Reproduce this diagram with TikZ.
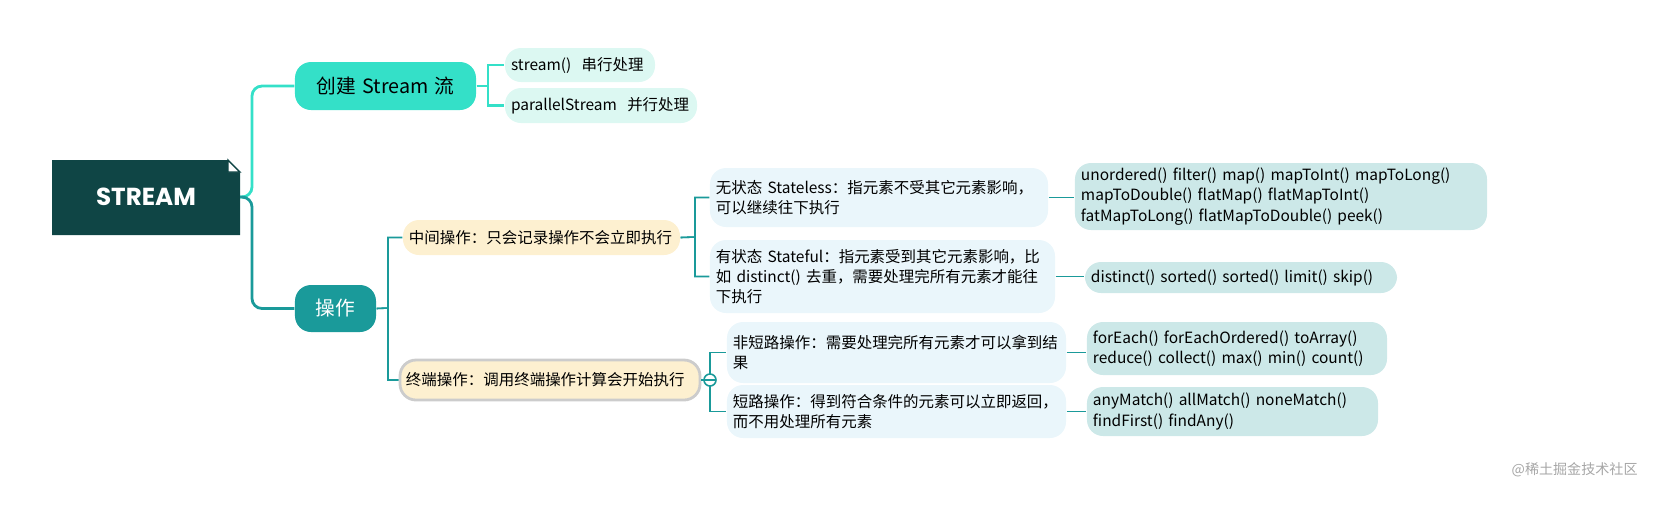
\documentclass[tikz,border=0pt]{standalone}
\usepackage{fontspec}
\setmainfont{Noto Sans CJK SC}
\newfontfamily\titlefont{Poppins}
\definecolor{rootc}{HTML}{0F4545}
\definecolor{cyanA}{HTML}{34E0C8}
\definecolor{tealB}{HTML}{1A9A9A}
\definecolor{lcyan}{HTML}{DCF8F2}
\definecolor{cream}{HTML}{FDF0D0}
\definecolor{lblue}{HTML}{EAF6FB}
\definecolor{lteal}{HTML}{CCE8E8}
\newcommand{\bx}[7]{%
  \pgfmathsetmacro\bw{(#4-#2)*0.01}\pgfmathsetmacro\bh{(#5-#3)*0.01}\pgfmathsetmacro\tw{(#4-#2-12)*0.01}%
  \node[#6,minimum width=\bw cm,minimum height=\bh cm,text width=\tw cm] (#1) at ({(#2+#4)/2},{(#3+#5)/2}) {#7};}
\begin{document}
\begin{tikzpicture}[x=0.01cm,y=-0.01cm,
  base/.style={inner sep=0pt,align=left,rounded corners=1.6mm},
  leaf/.style={base,font=\fontsize{4.4}{5.8}\selectfont},
  lnA/.style={cyanA,line width=0.8pt,rounded corners=1mm},
  lnB/.style={tealB,line width=0.8pt,rounded corners=1mm},
  thin/.style={tealB,line width=0.45pt}]
\useasboundingbox (0,0) rectangle (1662,523);
% root
\fill[rootc] (52,160) -- (228,160) -- (240,172) -- (240,235) -- (52,235) -- cycle;
\filldraw[fill=white,draw=rootc,line width=0.4pt] (228,160) -- (228,172) -- (240,172) -- cycle;
\node[text=white,font=\titlefont\bfseries\fontsize{7}{8}\selectfont] (root) at (146,197) {STREAM};
\coordinate (rootR) at (240,197);
\bx{create}{295}{62}{476}{110}{base,fill=cyanA,align=center,font=\fontsize{5.6}{7}\selectfont}{创建 Stream 流}
\bx{ops}{295}{285}{376}{332}{base,fill=tealB,text=white,align=center,font=\fontsize{5.6}{7}\selectfont}{操作}
\bx{s1}{505}{48}{655}{82}{leaf,fill=lcyan}{stream()\ \ 串行处理}
\bx{s2}{505}{88}{697}{123}{leaf,fill=lcyan}{parallelStream\ \ 并行处理}
\bx{mid}{403}{220}{680}{255}{leaf,fill=cream}{中间操作：只会记录操作不会立即执行}
\bx{term}{400}{360}{700}{400}{leaf,fill=cream,draw=gray!40,line width=0.8pt}{终端操作：调用终端操作计算会开始执行}
\bx{sl}{710}{168}{1048}{227}{leaf,fill=lblue}{无状态 Stateless：指元素不受其它元素影响，\\可以继续往下执行}
\bx{sf}{710}{240}{1055}{313}{leaf,fill=lblue}{有状态 Stateful：指元素受到其它元素影响，比\\如 distinct() 去重，需要处理完所有元素才能往\\下执行}
\bx{ns}{727}{322}{1066}{383}{leaf,fill=lblue}{非短路操作：需要处理完所有元素才可以拿到结\\果}
\bx{sc}{727}{385}{1066}{438}{leaf,fill=lblue}{短路操作：得到符合条件的元素可以立即返回，\\而不用处理所有元素}
\bx{r1}{1075}{163}{1487}{230}{leaf,fill=lteal}{unordered() filter() map() mapToInt() mapToLong()\\mapToDouble() flatMap() flatMapToInt()\\fatMapToLong() flatMapToDouble() peek()}
\bx{r2}{1085}{262}{1397}{293}{leaf,fill=lteal}{distinct() sorted() sorted() limit() skip()}
\bx{r3}{1087}{322}{1387}{375}{leaf,fill=lteal}{forEach() forEachOrdered() toArray()\\reduce() collect() max() min() count()}
\bx{r4}{1087}{387}{1378}{436}{leaf,fill=lteal}{anyMatch() allMatch() noneMatch()\\findFirst() findAny()}
% connectors
\draw[lnA] (rootR) -- (252,197) |- (create.west);
\draw[lnB] (rootR) -- (252,197) |- (ops.west);
\draw[cyanA,line width=0.6pt] (create.east) -- (488,86) |- (s1.west);
\draw[cyanA,line width=0.6pt] (create.east) -- (488,86) |- (s2.west);
\draw[thin] (ops.east) -- (388,308) |- (mid.west);
\draw[thin] (ops.east) -- (388,308) |- (term.west);
\draw[thin] (mid.east) -- (695,237) |- (sl.west);
\draw[thin] (mid.east) -- (695,237) |- (sf.west);
\draw[thin] (term.east) -- (704,380);
\draw[thin] (710,352) |- (ns.west);
\draw[thin] (710,352) -- (710,410) |- (sc.west);
\draw[thin,fill=white] (710,380) circle (6);
\draw[thin] (705,380) -- (715,380);
\draw[thin] (sl.east) -- (r1.west |- sl.east);
\draw[thin] (sf.east) -- (r2.west |- sf.east);
\draw[thin] (ns.east) -- (r3.west |- ns.east);
\draw[thin] (sc.east) -- (r4.west |- sc.east);
\node[gray!70,font=\fontsize{4}{5}\selectfont,anchor=east] (wm) at (1650,470) {@稀土掘金技术社区};
\end{tikzpicture}
\end{document}
